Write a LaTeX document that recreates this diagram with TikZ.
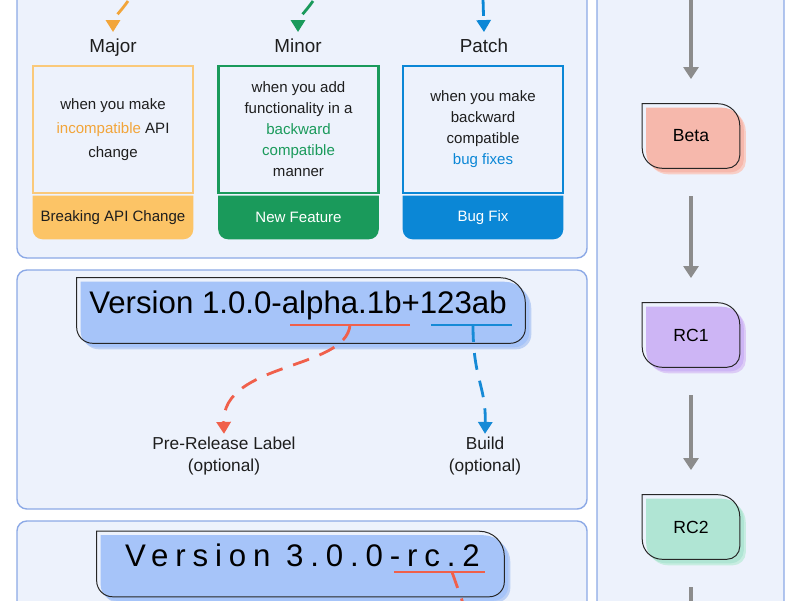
\documentclass[tikz,border=0pt]{standalone}
\usepackage{fontspec}
\setmainfont{Liberation Sans}
\usepackage{xcolor}
\usepackage{tikz}
\usetikzlibrary{arrows.meta, positioning, calc}
\definecolor{panelfill}{HTML}{EDF2FC}
\definecolor{panelline}{HTML}{8CA9E6}
\definecolor{inktext}{HTML}{1E1E1E}
\definecolor{majorcolor}{HTML}{F2A53A}
\definecolor{majorbox}{HTML}{FAC97A}
\definecolor{majorfoot}{HTML}{FCC466}
\definecolor{minorcolor}{HTML}{1A9A5B}
\definecolor{patchcolor}{HTML}{0B87D6}
\definecolor{precolor}{HTML}{F0604B}
\definecolor{buildcolor}{HTML}{168AD6}
\definecolor{verfill}{HTML}{A6C4F9}
\definecolor{vershadow}{HTML}{BCD0F5}
\definecolor{betafill}{HTML}{F6B8AC}
\definecolor{betashadow}{HTML}{F8CEC6}
\definecolor{rconefill}{HTML}{CDB5F5}
\definecolor{rconeshadow}{HTML}{DCCBF6}
\definecolor{rctwofill}{HTML}{B0E5D4}
\definecolor{rctwoshadow}{HTML}{C7EDE1}
\definecolor{flowgray}{HTML}{8C8C8C}

\pgfdeclarelayer{panels}
\pgfdeclarelayer{shapes}
\pgfsetlayers{panels,shapes,main}

% Tag outline: square top-left corner, rounded top-right (#2),
% bottom-right (#3) and bottom-left (#4).
\newcommand{\tagpath}[4]{(#1.north west) -- ([xshift=-#2]#1.north east)
  arc[start angle=90, end angle=0, radius=#2]
  -- ([yshift=#3]#1.south east) arc[start angle=0, end angle=-90, radius=#3]
  -- ([xshift=#4]#1.south west) arc[start angle=-90, end angle=-180, radius=#4]
  -- cycle}
% Footer outline: square top, both bottom corners rounded by #2.
\newcommand{\footpath}[2]{(#1.north west) -- (#1.north east)
  -- ([yshift=#2]#1.south east) arc[start angle=0, end angle=-90, radius=#2]
  -- ([xshift=#2]#1.south west) arc[start angle=-90, end angle=-180, radius=#2]
  -- cycle}

\begin{document}
\begin{tikzpicture}[x=0.025cm, y=0.025cm,
    % Light blue panels behind each group.
    panel/.style={draw=panelline, fill=panelfill, line width=1pt,
                  rounded corners=7pt},
    % Major / Minor / Patch headings, placed by their baseline.
    heading/.style={anchor=base, font=\fontsize{13.4}{16}\selectfont,
                    text=inktext, inner sep=5pt},
    % Rule boxes: outlined, text centred.
    rulebox/.style={line width=1.5pt, minimum width=4cm,
                    minimum height=3.175cm, align=center, text=inktext,
                    inner sep=0pt, font=\fontsize{10.7}{14.9}\selectfont},
    footbox/.style={minimum width=4cm, minimum height=1.075cm,
                    font=\fontsize{10.7}{13}\selectfont},
    % Coloured dashed pointers.
    pointer/.style={-{Triangle[length=8.5pt, width=10pt]}, line width=2pt,
                    dash pattern=on 12pt off 8pt},
    underbar/.style={line width=2pt},
    verbox/.style={minimum height=1.625cm, inner sep=0pt},
    vertext/.style={anchor=base, font=\fontsize{22.2}{26}\selectfont,
                    text=black, inner sep=0pt},
    note/.style={align=center, font=\fontsize{12.3}{15.6}\selectfont,
                 text=inktext, inner sep=2pt},
    % Release stages on the right.
    tagbox/.style={minimum width=2.425cm, minimum height=1.6cm,
                   font=\fontsize{12.5}{15}\selectfont, text=black},
    tagline/.style={draw=black!85, line width=0.7pt},
    flow/.style={-{Triangle[length=8.5pt, width=10.5pt]}, line width=2.8pt,
                 draw=flowgray, shorten <=20pt, shorten >=17.5pt}
]
    \useasboundingbox (0,0) rectangle (800,600);

    % === Panels ===
    \begin{pgfonlayer}{panels}
        \fill[white] (0,0) rectangle (800,600);
        \draw[panel] (17,342) rectangle (587,620);
        \draw[panel] (17,91)  rectangle (587,330);
        \draw[panel] (17,-40) rectangle (587,79);
        \draw[panel] (597,-40) rectangle (784,640);
    \end{pgfonlayer}

    % === Major / Minor / Patch ===
    \node[heading] (major) at (113,547) {Major};
    \node[heading] (minor) at (298,547) {Minor};
    \node[heading] (patch) at (484,547) {Patch};

    \coordinate (majsrc) at (128,599);
    \coordinate (minsrc) at (313,599);
    \coordinate (patsrc) at (483,601);
    \draw[pointer, majorcolor] (majsrc) to[out=-125, in=90] (major.north);
    \draw[pointer, minorcolor] (minsrc) to[out=-125, in=90] (minor.north);
    \draw[pointer, patchcolor] (patsrc) -- (patch.north);

    \node[rulebox, draw=majorbox, font=\fontsize{10.7}{17}\selectfont]
        (majbox) at (113,470.5)
        {when you make\\\textcolor{majorcolor}{incompatible} API\\change};
    \node[rulebox, draw=minorcolor] (minbox) at (298.5,470.5)
        {when you add\\functionality in a\\\textcolor{minorcolor}{backward}\\
         \textcolor{minorcolor}{compatible}\\manner};
    \node[rulebox, draw=patchcolor] (patbox) at (483,470.5)
        {when you make\\backward\\compatible\\\textcolor{patchcolor}{bug fixes}};

    \node[footbox, text=inktext] (majfoot) at (113,382.5)   {Breaking API Change};
    \node[footbox, text=white]   (minfoot) at (298.5,382.5) {New Feature};
    \node[footbox, text=white]   (patfoot) at (483,382.5)   {Bug Fix};
    \begin{pgfonlayer}{shapes}
        \fill[majorfoot]  \footpath{majfoot}{7pt};
        \fill[minorcolor] \footpath{minfoot}{7pt};
        \fill[patchcolor] \footpath{patfoot}{7pt};
    \end{pgfonlayer}

    % === Version 1.0.0-alpha.1b+123ab ===
    \node[verbox, minimum width=11.2cm] (ver1) at (301,289.5) {};
    \node[vertext] (ver1text) at (298,287) {Version 1.0.0-alpha.1b+123ab};
    \begin{pgfonlayer}{shapes}
        \fill[vershadow, transform canvas={shift={(6,-6)}}]
            \tagpath{ver1}{17.8pt}{10.7pt}{11.4pt};
        \fill[verfill, transform canvas={shift={(4,-4)}}]
            \tagpath{ver1}{17.8pt}{10.7pt}{11.4pt};
    \end{pgfonlayer}
    \draw[tagline] \tagpath{ver1}{17.8pt}{10.7pt}{11.4pt};

    \draw[underbar, precolor]   (290,275) -- (410,275);
    \draw[underbar, buildcolor] (431,275) -- (512,275);
    \coordinate (prestart)   at (350,275);
    \coordinate (buildstart) at (473,275);

    \node[note] (prelabel)   at (224,144) {Pre-Release Label\\(optional)};
    \node[note] (buildlabel) at (485,144) {Build\\(optional)};

    \draw[pointer, precolor] (prestart)
        .. controls (346,230) and (222,238) .. (prelabel.north);
    \draw[pointer, buildcolor] (buildstart)
        .. controls (473,220) and (486,215) .. (buildlabel.north);

    % === Version 3.0.0-rc.2 ===
    \node[verbox, minimum width=10.175cm] (ver2) at (300.5,36) {};
    \node[vertext] (ver2text) at (302.5,34)
        {\addfontfeature{LetterSpace=22}Version 3.0.0-rc.2};
    \begin{pgfonlayer}{shapes}
        \fill[vershadow, transform canvas={shift={(6,-6)}}]
            \tagpath{ver2}{17.8pt}{10.7pt}{11.4pt};
        \fill[verfill, transform canvas={shift={(4,-4)}}]
            \tagpath{ver2}{17.8pt}{10.7pt}{11.4pt};
    \end{pgfonlayer}
    \draw[tagline] \tagpath{ver2}{17.8pt}{10.7pt}{11.4pt};

    \draw[underbar, precolor] (394,28) -- (485,28);
    \coordinate (rcstart) at (452,28);
    \coordinate (rcend)   at (476,-40);
    \draw[pointer, precolor] (rcstart) -- (rcend);

    % === Release stages ===
    \node[tagbox] (beta) at (691,464) {Beta};
    \node[tagbox] (rcone) at (691,265) {RC1};
    \node[tagbox] (rctwo) at (691,73)  {RC2};
    \begin{pgfonlayer}{shapes}
        \fill[betashadow, transform canvas={shift={(6,-6)}}]
            \tagpath{beta}{15.6pt}{9.2pt}{14.2pt};
        \fill[betafill, transform canvas={shift={(4,-4)}}]
            \tagpath{beta}{15.6pt}{9.2pt}{14.2pt};
        \fill[rconeshadow, transform canvas={shift={(6,-6)}}]
            \tagpath{rcone}{15.6pt}{9.2pt}{14.2pt};
        \fill[rconefill, transform canvas={shift={(4,-4)}}]
            \tagpath{rcone}{15.6pt}{9.2pt}{14.2pt};
        \fill[rctwoshadow, transform canvas={shift={(6,-6)}}]
            \tagpath{rctwo}{15.6pt}{9.2pt}{14.2pt};
        \fill[rctwofill, transform canvas={shift={(4,-4)}}]
            \tagpath{rctwo}{15.6pt}{9.2pt}{14.2pt};
    \end{pgfonlayer}
    \draw[tagline] \tagpath{beta}{15.6pt}{9.2pt}{14.2pt};
    \draw[tagline] \tagpath{rcone}{15.6pt}{9.2pt}{14.2pt};
    \draw[tagline] \tagpath{rctwo}{15.6pt}{9.2pt}{14.2pt};

    \coordinate (flowin)  at (691,640);
    \coordinate (flowout) at (691,-40);
    \draw[flow, shorten <=0pt] (flowin) -- (beta);
    \draw[flow] (beta) -- (rcone);
    \draw[flow] (rcone) -- (rctwo);
    \draw[flow, shorten >=0pt] (rctwo) -- (flowout);

\end{tikzpicture}
\end{document}
